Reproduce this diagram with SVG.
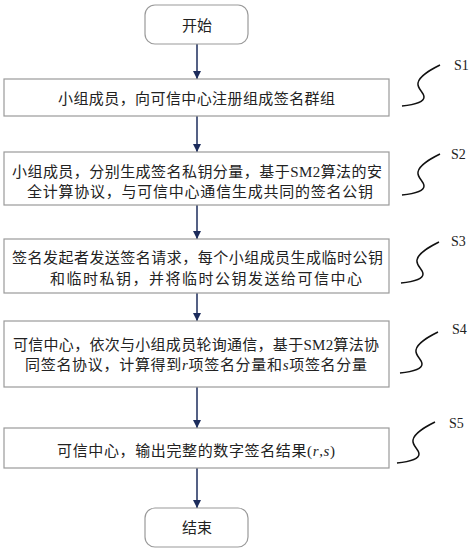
<svg xmlns="http://www.w3.org/2000/svg" width="474" height="552" viewBox="0 0 474 552">
<style>
.box{fill:#fff;stroke:#9a9a9a;stroke-width:1.2}
.t{font-family:"Liberation Serif","Noto Sans CJK SC",serif;font-size:15px;fill:#222}
.lat{font-family:"Liberation Serif",serif}
.it{font-family:"Liberation Serif",serif;font-style:italic}
.lbl{font-family:"Liberation Serif",serif;font-size:14px;fill:#222}
.arr{stroke:#1c2c5c;stroke-width:1.5;fill:none}
.sq{stroke:#111;stroke-width:1.5;fill:none}
</style>
<defs>
<marker id="ah" viewBox="0 0 10 10" refX="10" refY="5" markerWidth="8" markerHeight="10" markerUnits="userSpaceOnUse" orient="auto">
<path d="M0,0 L10,5 L0,10 z" fill="#1c2c5c"/>
</marker>
<path id="squig" d="M0,0 C10,-1 22,-3 22,-9 C22,-14 15,-17 16,-23 C17,-30 28,-36 38,-41"/>
</defs>
<rect width="474" height="552" fill="#fff"/>
<g id="connectors">
<line class="arr" x1="197" y1="44" x2="197" y2="79" marker-end="url(#ah)"/>
<line class="arr" x1="197" y1="116" x2="197" y2="152" marker-end="url(#ah)"/>
<line class="arr" x1="197" y1="205" x2="197" y2="239" marker-end="url(#ah)"/>
<line class="arr" x1="197" y1="293" x2="197" y2="321" marker-end="url(#ah)"/>
<line class="arr" x1="197" y1="387" x2="197" y2="428" marker-end="url(#ah)"/>
<line class="arr" x1="197" y1="468" x2="197" y2="508" marker-end="url(#ah)"/>
</g>
<g id="start">
<rect class="box" x="145" y="5" width="103" height="39" rx="10"/>
<text class="t" x="197" y="30.5" text-anchor="middle">开始</text>
</g>
<g id="s1">
<rect class="box" x="4" y="79" width="385" height="37"/>
<text class="t" x="58" y="103.5" textLength="277" lengthAdjust="spacing">小组成员，向可信中心注册组成签名群组</text>
<use href="#squig" class="sq" transform="translate(402,106)"/>
<text class="lbl" x="454" y="70">S1</text>
</g>
<g id="s2">
<rect class="box" x="4" y="152" width="385" height="53"/>
<text class="t" x="12" y="176.5" textLength="370" lengthAdjust="spacing">小组成员，分别生成签名私钥分量，基于<tspan class="lat">SM2</tspan>算法的安</text>
<text class="t" x="27" y="196.5" textLength="346" lengthAdjust="spacing">全计算协议，与可信中心通信生成共同的签名公钥</text>
<use href="#squig" class="sq" transform="translate(402,195)"/>
<text class="lbl" x="451" y="159">S2</text>
</g>
<g id="s3">
<rect class="box" x="4" y="239" width="385" height="54"/>
<text class="t" x="12" y="263" textLength="371" lengthAdjust="spacing">签名发起者发送签名请求，每个小组成员生成临时公钥</text>
<text class="t" x="50" y="283.5" textLength="312" lengthAdjust="spacing">和临时私钥，并将临时公钥发送给可信中心</text>
<use href="#squig" class="sq" transform="translate(401,283)"/>
<text class="lbl" x="451" y="246">S3</text>
</g>
<g id="s4">
<rect class="box" x="4" y="321" width="385" height="66"/>
<text class="t" x="13" y="349.5" textLength="366" lengthAdjust="spacing">可信中心，依次与小组成员轮询通信，基于<tspan class="lat">SM2</tspan>算法协</text>
<text class="t" x="25" y="369.5" textLength="342" lengthAdjust="spacing">同签名协议，计算得到<tspan class="it">r</tspan>项签名分量和<tspan class="it">s</tspan>项签名分量</text>
<use href="#squig" class="sq" transform="translate(400,373)"/>
<text class="lbl" x="452" y="334">S4</text>
</g>
<g id="s5">
<rect class="box" x="4" y="428" width="385" height="40"/>
<text class="t" x="57" y="455.5" textLength="278" lengthAdjust="spacing">可信中心，输出完整的数字签名结果<tspan class="lat">(</tspan><tspan class="it">r</tspan><tspan class="lat">,</tspan><tspan class="it">s</tspan><tspan class="lat">)</tspan></text>
<use href="#squig" class="sq" transform="translate(397,463)"/>
<text class="lbl" x="449" y="428">S5</text>
</g>
<g id="end">
<rect class="box" x="145" y="508" width="103" height="39" rx="10"/>
<text class="t" x="197" y="532.5" text-anchor="middle">结束</text>
</g>
</svg>
